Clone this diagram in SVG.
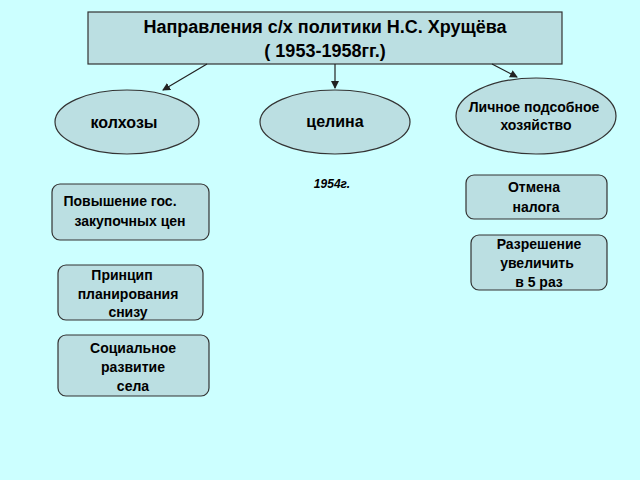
<svg xmlns="http://www.w3.org/2000/svg" width="640" height="480" viewBox="0 0 640 480">
<style>
.b{fill:#bbdfe2;stroke:#333;stroke-width:1.2}
.t{font-family:"Liberation Sans",Arial,sans-serif;font-weight:bold;font-size:14px;fill:#000;text-anchor:middle}
.c{stroke:#222;stroke-width:1.2;fill:none;marker-end:url(#a)}
</style>
<defs><marker id="a" markerWidth="8" markerHeight="8" refX="7" refY="4" orient="auto" markerUnits="userSpaceOnUse"><path d="M0,0 L8,4 L0,8 z" fill="#222"/></marker></defs>
<rect width="640" height="480" fill="#ccffff"/>
<g id="title"><rect class="b" x="88" y="12" width="474" height="52"/><text class="t" style="font-size:18px" x="325" y="33">Направления с/х политики Н.С. Хрущёва</text><text class="t" style="font-size:18px" x="325" y="57">( 1953-1958гг.)</text></g>
<g id="connectors"><line class="c" x1="207" y1="64" x2="163" y2="90"/><line class="c" x1="335" y1="64" x2="335" y2="88"/><line class="c" x1="492" y1="64" x2="517" y2="77"/></g>
<g id="kolkhozy"><ellipse class="b" cx="127" cy="122" rx="72" ry="32"/><text class="t" style="font-size:16px" x="124" y="128">колхозы</text></g>
<g id="tselina"><ellipse class="b" cx="335" cy="122" rx="75" ry="32"/><text class="t" style="font-size:16px" x="335" y="127">целина</text></g>
<g id="lph"><ellipse class="b" cx="536" cy="116" rx="80" ry="38"/><text class="t" x="534" y="112">Личное подсобное</text><text class="t" x="536" y="130">хозяйство</text></g>
<g id="year"><text class="t" style="font-style:italic;font-size:12px" x="332" y="188">1954г.</text></g>
<g id="n1"><rect class="b" x="52" y="184" width="157" height="56" rx="8"/><text class="t" x="120" y="206">Повышение гос.</text><text class="t" x="130" y="226">закупочных цен</text></g>
<g id="n2"><rect class="b" x="58" y="265" width="145" height="55" rx="8"/><text class="t" x="122" y="280">Принцип</text><text class="t" x="128" y="299">планирования</text><text class="t" x="128" y="317">снизу</text></g>
<g id="n3"><rect class="b" x="58" y="335" width="151" height="61" rx="8"/><text class="t" x="133" y="353">Социальное</text><text class="t" x="133" y="372">развитие</text><text class="t" x="133" y="391">села</text></g>
<g id="n4"><rect class="b" x="466" y="175" width="141" height="44" rx="8"/><text class="t" x="534" y="192">Отмена</text><text class="t" x="536" y="212">налога</text></g>
<g id="n5"><rect class="b" x="471" y="235" width="136" height="55" rx="8"/><text class="t" x="539" y="249">Разрешение</text><text class="t" x="537" y="268">увеличить</text><text class="t" x="539" y="287">в 5 раз</text></g>
</svg>
